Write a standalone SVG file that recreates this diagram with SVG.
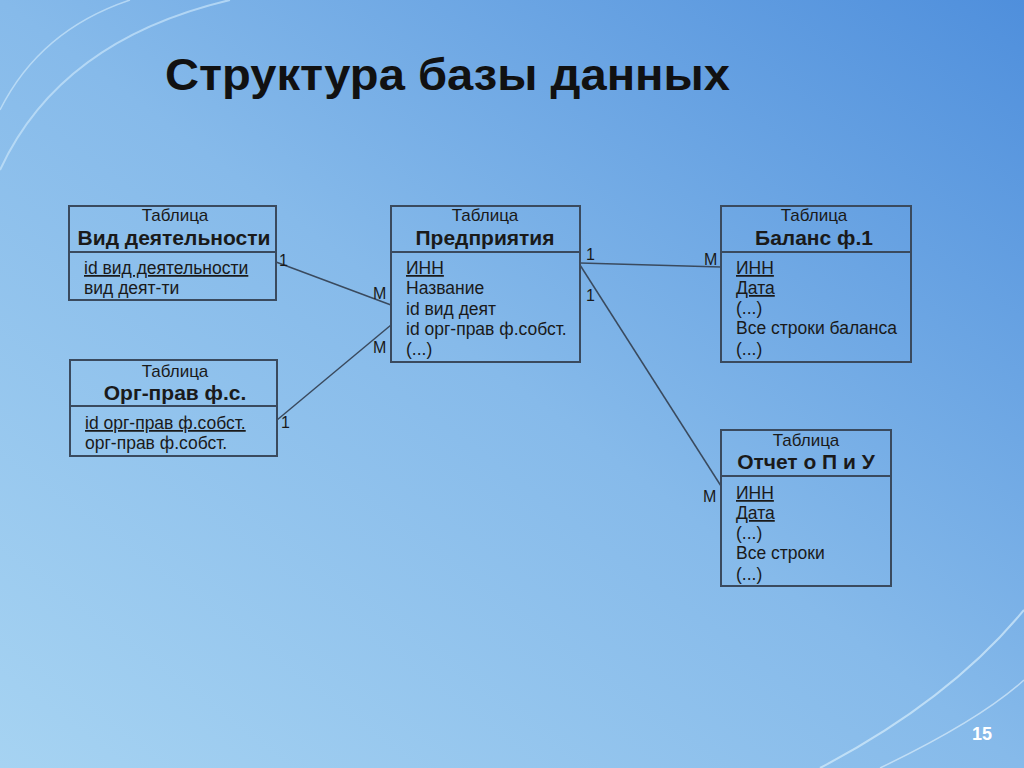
<svg xmlns="http://www.w3.org/2000/svg" width="1024" height="768" viewBox="0 0 1024 768">
<defs>
<linearGradient id="bg" x1="0" y1="1" x2="1" y2="0">
<stop offset="0" stop-color="#a6d3f2"/>
<stop offset="0.5" stop-color="#86baea"/>
<stop offset="1" stop-color="#4f8fdc"/>
</linearGradient>
<style>
.box{fill:none;stroke:#3a4a5e;stroke-width:2}
.t{font-family:"Liberation Sans",Arial,sans-serif;fill:#1a1a1a}
.sm{font-size:17px;text-anchor:middle}
.hd{font-size:21px;font-weight:bold;text-anchor:middle}
.f{font-size:17.5px}
.u{text-decoration:underline}
.c{stroke:#3a4a5e;stroke-width:1.5;fill:none}
.lb{font-family:"Liberation Sans",Arial,sans-serif;font-size:16px;fill:#1a1a1a}
</style>
</defs>
<rect width="1024" height="768" fill="url(#bg)"/>
<path d="M0,170 Q60,40 230,0" stroke="#c8e4fa" stroke-width="2" fill="none" opacity="0.7"/>
<path d="M0,110 Q40,30 130,0" stroke="#d6ecfb" stroke-width="1.5" fill="none" opacity="0.6"/>
<path d="M820,768 Q950,700 1024,610" stroke="#d6ecfb" stroke-width="2" fill="none" opacity="0.7"/>
<path d="M880,768 Q980,720 1024,680" stroke="#e6f4fc" stroke-width="1.5" fill="none" opacity="0.6"/>
<text x="165" y="90" font-family="Liberation Sans,Arial,sans-serif" font-size="44" font-weight="bold" fill="#111" textLength="565" lengthAdjust="spacingAndGlyphs">Структура базы данных</text>
<text x="982" y="740" font-family="Liberation Sans,Arial,sans-serif" font-size="18" font-weight="bold" fill="#fff" text-anchor="middle">15</text>
<g id="connectors">
<path class="c" d="M276,262 L391,305"/>
<path class="c" d="M277,420 L391,325"/>
<path class="c" d="M580,263 L721,267"/>
<path class="c" d="M580,265 L721,486"/>
<text class="lb" x="279" y="266">1</text>
<text class="lb" x="373" y="299">M</text>
<text class="lb" x="373" y="353">M</text>
<text class="lb" x="281" y="428">1</text>
<text class="lb" x="586" y="260">1</text>
<text class="lb" x="704" y="265">M</text>
<text class="lb" x="586" y="301">1</text>
<text class="lb" x="703" y="502">M</text>
</g>
<g id="vid">
<rect class="box" x="69" y="206" width="207" height="94"/>
<line class="box" x1="69" y1="252" x2="276" y2="252"/>
<text class="t sm" x="175" y="221">Таблица</text>
<text class="t hd" x="174" y="245">Вид деятельности</text>
<text class="t f u" x="84" y="274">id вид деятельности</text>
<text class="t f" x="84" y="294">вид деят-ти</text>
</g>
<g id="org">
<rect class="box" x="70" y="360" width="207" height="96"/>
<line class="box" x1="70" y1="406" x2="277" y2="406"/>
<text class="t sm" x="175" y="377">Таблица</text>
<text class="t hd" x="175" y="400">Орг-прав ф.с.</text>
<text class="t f u" x="85" y="429">id орг-прав ф.собст.</text>
<text class="t f" x="85" y="449">орг-прав ф.собст.</text>
</g>
<g id="pred">
<rect class="box" x="391" y="206" width="189" height="156"/>
<line class="box" x1="391" y1="252" x2="580" y2="252"/>
<text class="t sm" x="485" y="221">Таблица</text>
<text class="t hd" x="485" y="245">Предприятия</text>
<text class="t f u" x="406" y="274">ИНН</text>
<text class="t f" x="406" y="294">Название</text>
<text class="t f" x="406" y="315">id вид деят</text>
<text class="t f" x="406" y="335">id орг-прав ф.собст.</text>
<text class="t f" x="406" y="355">(...)</text>
</g>
<g id="balans">
<rect class="box" x="721" y="206" width="190" height="156"/>
<line class="box" x1="721" y1="252" x2="911" y2="252"/>
<text class="t sm" x="814" y="221">Таблица</text>
<text class="t hd" x="814" y="245">Баланс ф.1</text>
<text class="t f u" x="736" y="274">ИНН</text>
<text class="t f u" x="736" y="294">Дата</text>
<text class="t f" x="736" y="314">(...)</text>
<text class="t f" x="736" y="334">Все строки баланса</text>
<text class="t f" x="736" y="355">(...)</text>
</g>
<g id="otchet">
<rect class="box" x="721" y="430" width="170" height="156"/>
<line class="box" x1="721" y1="476" x2="891" y2="476"/>
<text class="t sm" x="806" y="446">Таблица</text>
<text class="t hd" x="806" y="469">Отчет о П и У</text>
<text class="t f u" x="736" y="499">ИНН</text>
<text class="t f u" x="736" y="519">Дата</text>
<text class="t f" x="736" y="539">(...)</text>
<text class="t f" x="736" y="559">Все строки</text>
<text class="t f" x="736" y="580">(...)</text>
</g>
</svg>
